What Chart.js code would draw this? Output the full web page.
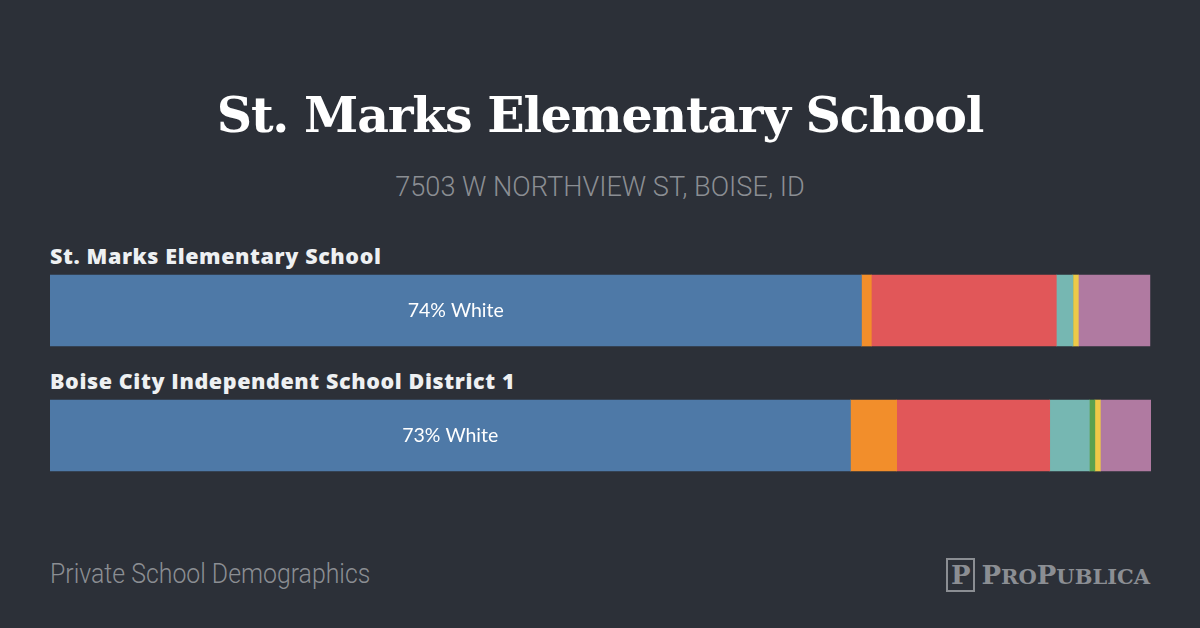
<!DOCTYPE html>
<html><head><meta charset="utf-8">
<script src="https://cdn.jsdelivr.net/npm/chart.js@4"></script>
<style>
body{margin:0;background:#2c3038;width:1200px;height:628px;overflow:hidden;position:relative;font-family:Lato,sans-serif}
.t{position:absolute;left:0;width:1200px;text-align:center;color:#fff;font:bold 49px "DejaVu Serif",serif;top:86px;letter-spacing:-1.2px}
.s{position:absolute;left:0;width:1200px;text-align:center;color:#8b8e93;font:300 28px Roboto,sans-serif;top:170px;transform:scaleX(0.97)}
.l{position:absolute;left:50px;color:#eef0f2;font:800 21.5px "Open Sans",sans-serif;letter-spacing:0.6px}
.f{position:absolute;left:50px;top:558px;color:#8b8e93;font:300 27px Roboto,sans-serif;transform:scaleX(0.92);transform-origin:left}
.p{position:absolute;right:50px;top:560px;color:#8b8e93;font:bold 26px "DejaVu Serif",serif;white-space:nowrap}
</style></head><body>
<div class="t">St. Marks Elementary School</div>
<div class="s">7503 W NORTHVIEW ST, BOISE, ID</div>
<div class="l" style="top:241px">St. Marks Elementary School</div>
<div class="l" style="top:366px">Boise City Independent School District 1</div>
<div style="position:absolute;left:50px;top:248px;width:1101px;height:250px"><canvas id="c"></canvas></div>
<div class="f">Private School Demographics</div>
<div class="p"><span style="border:2px solid #8b8e93;padding:0 3px;margin-right:6px">P</span>P<span style="font-size:21px">RO</span>P<span style="font-size:21px">UBLICA</span></div>
<script>
const categories=["St. Marks Elementary School","Boise City Independent School District 1"];
const groups=["White","Hispanic","Asian","Black","Native Hawaiian","Native American","Two or more"];
const colors=["#4e79a7","#f28e2b","#e15759","#76b7b2","#59a14f","#edc948","#b07aa1"];
const values={
 "White":[73.7,72.7],
 "Hispanic":[0.9,4.2],
 "Asian":[16.8,13.9],
 "Black":[1.5,3.6],
 "Native Hawaiian":[0,0.5],
 "Native American":[0.5,0.5],
 "Two or more":[6.5,4.6]
};
const labelPlug={id:'lbl',afterDatasetsDraw(ch){const ctx=ch.ctx;const meta=ch.getDatasetMeta(0);
 ctx.save();ctx.fillStyle='#fff';ctx.font='19.5px Lato';ctx.textAlign='center';ctx.textBaseline='middle';
 meta.data.forEach((b,i)=>{ctx.fillText(Math.round(values.White[i])+'% White',(b.base+b.x)/2,b.y);});ctx.restore();}};
new Chart(document.getElementById('c'),{type:'bar',
 data:{labels:categories,datasets:groups.map((g,i)=>({label:g,data:values[g],backgroundColor:colors[i],barThickness:71,borderWidth:0}))},
 options:{indexAxis:'y',responsive:true,maintainAspectRatio:false,animation:false,
  layout:{padding:0},
  plugins:{legend:{display:false},tooltip:{enabled:false}},
  scales:{x:{stacked:true,min:0,max:100,display:false},y:{stacked:true,display:false}}},
 plugins:[labelPlug]});
</script></body></html>
